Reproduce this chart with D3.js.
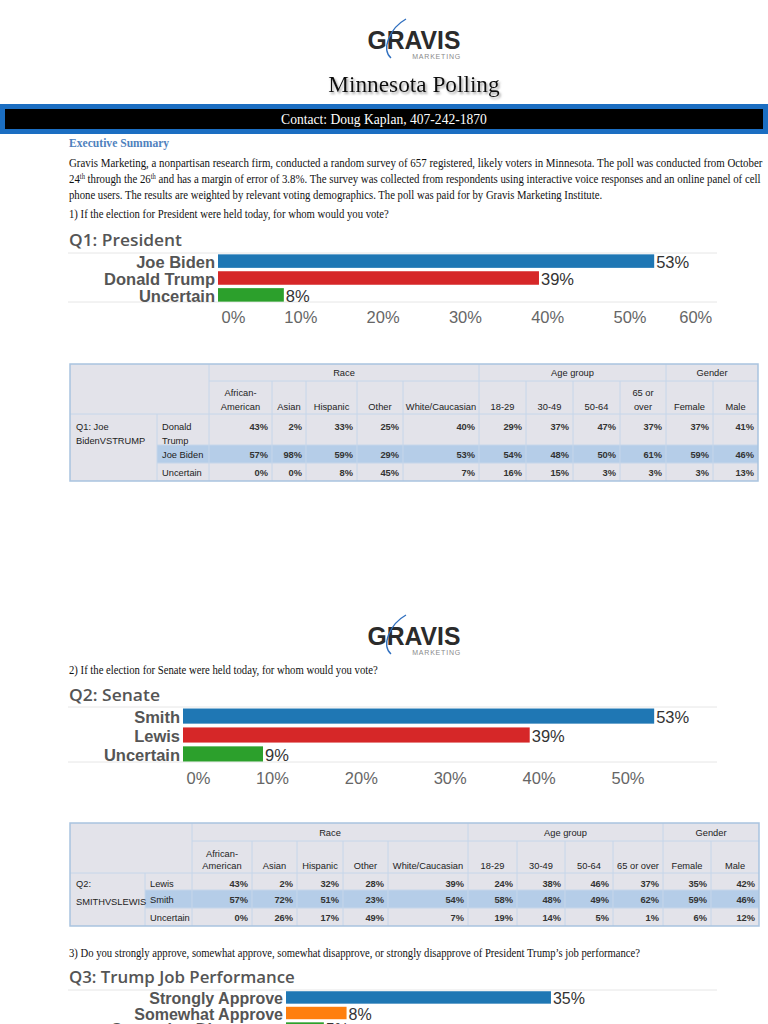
<!DOCTYPE html>
<html><head><meta charset="utf-8">
<script src="https://cdn.jsdelivr.net/npm/d3@7"></script>
<style>html,body{margin:0;padding:0;background:#fff;overflow:hidden}</style>
</head><body><svg id="c" width="768" height="1024"></svg>
<script>
// ---------- DATA ----------
const q1Categories = ["Joe Biden", "Donald Trump", "Uncertain"];
const q1Values = [53, 39, 8];
const q1Colors = ["#1f77b4", "#d62728", "#2ca02c"];
const q1Ticks = [0, 10, 20, 30, 40, 50, 60];

const q2Categories = ["Smith", "Lewis", "Uncertain"];
const q2Values = [53, 39, 9];
const q2Colors = ["#1f77b4", "#d62728", "#2ca02c"];
const q2Ticks = [0, 10, 20, 30, 40, 50];

const q3Categories = ["Strongly Approve", "Somewhat Approve", "Somewhat Disapprove"];
const q3Values = [35, 8, 5];
const q3Colors = ["#1f77b4", "#ff7f0e", "#2ca02c"];

const groupNames = ["Race", "Age group", "Gender"];
const groupSizes = [5, 4, 2];
const t1Headers = ["African-\nAmerican", "Asian", "Hispanic", "Other", "White/Caucasian", "18-29", "30-49", "50-64", "65 or\nover", "Female", "Male"];
const t2Headers = ["African-\nAmerican", "Asian", "Hispanic", "Other", "White/Caucasian", "18-29", "30-49", "50-64", "65 or over", "Female", "Male"];

const t1Question = "Q1: Joe\nBidenVSTRUMP";
const t1Rows = ["Donald\nTrump", "Joe Biden", "Uncertain"];
const t1Trump = [43, 2, 33, 25, 40, 29, 37, 47, 37, 37, 41];
const t1Biden = [57, 98, 59, 29, 53, 54, 48, 50, 61, 59, 46];
const t1Uncertain = [0, 0, 8, 45, 7, 16, 15, 3, 3, 3, 13];

const t2Question = "Q2:\nSMITHVSLEWIS";
const t2Rows = ["Lewis", "Smith", "Uncertain"];
const t2Lewis = [43, 2, 32, 28, 39, 24, 38, 46, 37, 35, 42];
const t2Smith = [57, 72, 51, 23, 54, 58, 48, 49, 62, 59, 46];
const t2Uncertain = [0, 26, 17, 49, 7, 19, 14, 5, 1, 6, 12];

const paragraph = [
  "Gravis Marketing, a nonpartisan research firm, conducted a random survey of 657 registered, likely voters in Minnesota. The poll was conducted from October",
  ["24", "th", " through the 26", "th", " and has a margin of error of 3.8%.  The survey was collected from respondents using interactive voice responses and an online panel of cell"],
  "phone users.  The results are weighted by relevant voting demographics. The poll was paid for by Gravis Marketing Institute."
];

// ---------- SETUP ----------
const svg = d3.select("#c");
svg.append("rect").attr("width", 768).attr("height", 1024).attr("fill", "#fff");
const defs = svg.append("defs");
const flt = defs.append("filter").attr("id", "sh").attr("x", "-10%").attr("y", "-40%").attr("width", "130%").attr("height", "190%");
flt.append("feDropShadow").attr("dx", 1.5).attr("dy", 2).attr("stdDeviation", 1.2).attr("flood-color", "#777").attr("flood-opacity", 0.7);

const SERIF = "'Liberation Serif','Times New Roman',serif";
const SANS = "'Liberation Sans',Arial,sans-serif";

function fit(t, w) {
  const bw = t.node().getBBox().width;
  const x = +t.attr("x"), y = +t.attr("y");
  t.attr("transform", `translate(${x},${y}) scale(${w / bw},1) translate(${-x},${-y})`);
  return t;
}

function serifText(x, y, str, size, w, opts = {}) {
  const t = svg.append("text").attr("x", x).attr("y", y)
    .attr("font-family", SERIF).attr("font-size", size).attr("fill", opts.fill || "#111")
    .attr("font-weight", opts.weight || "normal").attr("text-anchor", opts.anchor || "start");
  if (Array.isArray(str)) {
    str.forEach((s, i) => {
      const sup = i % 2 === 1;
      t.append("tspan").attr("font-size", sup ? size * 0.6 : size)
        .attr("dy", sup ? -4 : (i > 0 ? 4 : 0)).text(s);
    });
  } else t.text(str);
  if (w) fit(t, w);
  return t;
}

function logo(cx, base) {
  const g = svg.append("g");
  const t = g.append("text").attr("x", cx).attr("y", base).attr("text-anchor", "middle")
    .attr("font-family", SANS).attr("font-weight", "bold").attr("font-size", 26).attr("fill", "#2b2b2b").text("GRAVIS");
  fit(t, 93);
  g.append("text").attr("x", cx + 47).attr("y", base + 10).attr("text-anchor", "end")
    .attr("font-family", SANS).attr("font-size", 7).attr("letter-spacing", 0.8).attr("fill", "#8a8a8a").text("MARKETING");
  g.append("path").attr("d", `M${cx - 8},${base - 30} C${cx - 24},${base - 21} ${cx - 33},${base} ${cx - 23},${base + 9}`)
    .attr("fill", "none").attr("stroke", "#2f6fbf").attr("stroke-width", 1.4);
}

// ---------- HEADER ----------
logo(414, 49);
serifText(414, 92, "Minnesota Polling", 23, 172, { anchor: "middle" }).attr("filter", "url(#sh)");
svg.append("rect").attr("x", 0).attr("y", 104).attr("width", 768).attr("height", 30).attr("fill", "#1b6ec2");
svg.append("rect").attr("x", 5).attr("y", 109).attr("width", 758).attr("height", 20).attr("fill", "#000");
serifText(384, 124, "Contact: Doug Kaplan, 407-242-1870", 14, 206, { anchor: "middle", fill: "#fff" });
serifText(69, 147, "Executive Summary", 12.5, 101, { weight: "bold", fill: "#4f81bd" });
serifText(69, 167, paragraph[0], 12, 694);
serifText(69, 183, paragraph[1], 12, 693);
serifText(69, 199, paragraph[2], 12, 534);
serifText(69, 218, "1) If the election for President were held today, for whom would you vote?", 12, 320);

// ---------- BAR CHART ----------
function barChart(cfg) {
  const g = svg.append("g");
  const fs = cfg.fs || 16.5;
  const title = g.append("text").attr("x", 69).attr("y", cfg.titleY)
    .attr("font-family", "'Open Sans',sans-serif").attr("font-weight", 600).attr("font-size", 16).attr("fill", "#555").text(cfg.title);
  fit(title, cfg.titleW);
  g.append("line").attr("x1", 68).attr("x2", 717).attr("y1", cfg.gridTop).attr("y2", cfg.gridTop).attr("stroke", "#e6e6e6");
  if (cfg.gridBottom) g.append("line").attr("x1", 68).attr("x2", 717).attr("y1", cfg.gridBottom).attr("y2", cfg.gridBottom).attr("stroke", "#e6e6e6");
  const x = d3.scaleLinear().domain([0, 60]).range([cfg.x0, cfg.x0 + 60 * cfg.ppp]);
  const y = d3.scaleBand().domain(cfg.cats).range(cfg.yRange).paddingInner(0.2).paddingOuter(0.08);
  g.selectAll("rect.bar").data(cfg.cats).join("rect").attr("class", "bar")
    .attr("x", x(0)).attr("y", d => y(d)).attr("height", y.bandwidth())
    .attr("width", (d, i) => x(cfg.vals[i]) - x(0)).attr("fill", (d, i) => cfg.colors[i]);
  g.selectAll("text.cat").data(cfg.cats).join("text").attr("class", "cat")
    .attr("x", x(0) - 3).attr("y", d => y(d) + y.bandwidth() / 2 + 1).attr("dominant-baseline", "central")
    .attr("text-anchor", "end").attr("font-family", SANS).attr("font-weight", "bold").attr("font-size", fs)
    .attr("fill", "#555").text(d => d);
  g.selectAll("text.val").data(cfg.cats).join("text").attr("class", "val")
    .attr("x", (d, i) => x(cfg.vals[i]) + 2).attr("y", d => y(d) + y.bandwidth() / 2 + 1).attr("dominant-baseline", "central")
    .attr("font-family", SANS).attr("font-size", fs).attr("fill", "#333").text((d, i) => cfg.vals[i] + "%");
  if (cfg.ticks) {
    const ax = g.append("g").attr("transform", `translate(0,${cfg.tickY})`)
      .call(d3.axisBottom(x).tickValues(cfg.ticks).tickFormat(d => d + "%").tickSize(0).tickPadding(0));
    ax.select(".domain").remove();
    ax.selectAll("text").attr("font-family", SANS).attr("font-size", 16.5).attr("fill", "#666").attr("dy", 0);
    ax.selectAll(".tick").filter(d => d === 0).select("text").attr("text-anchor", "start").attr("x", 3);
    ax.selectAll(".tick").filter(d => d === 60).select("text").attr("text-anchor", "end").attr("x", 0);
  }
}

barChart({ title: "Q1: President", titleY: 246, titleW: 113, gridTop: 253, gridBottom: 302,
  cats: q1Categories, vals: q1Values, colors: q1Colors, ticks: q1Ticks,
  x0: 218, ppp: 8.23, yRange: [253, 303], tickY: 323 });

// ---------- TABLE ----------
function table(cfg) {
  const g = svg.append("g").attr("font-family", SANS).attr("font-size", 9.3).attr("fill", "#222");
  const C = cfg.cols, R = cfg.rows;
  const L = C[0], Rt = C[C.length - 1], T = R[0], B = R[R.length - 1];
  const gray = "#e3e3ea", hi = "#b5cde8", line = "#c6d6ea";
  g.append("rect").attr("x", L).attr("y", T).attr("width", Rt - L).attr("height", B - T).attr("fill", gray);
  g.append("rect").attr("x", C[1]).attr("y", R[2 + cfg.hiRow]).attr("width", Rt - C[1]).attr("height", R[3 + cfg.hiRow] - R[2 + cfg.hiRow]).attr("fill", hi);
  const hl = (y, x1, x2) => g.append("line").attr("x1", x1).attr("x2", x2).attr("y1", y).attr("y2", y).attr("stroke", line);
  const vl = (x, y1, y2) => g.append("line").attr("x1", x).attr("x2", x).attr("y1", y1).attr("y2", y2).attr("stroke", line);
  hl(R[1], C[2], Rt); hl(R[2], L, Rt); hl(R[3], C[1], Rt); hl(R[4], C[1], Rt);
  vl(C[1], R[2], B); vl(C[2], T, B);
  let gi = 2; const groupEdges = [C[2]];
  groupSizes.forEach(n => { gi += n; groupEdges.push(C[gi]); });
  for (let i = 3; i < C.length - 1; i++) vl(C[i], groupEdges.includes(C[i]) ? T : R[1], B);
  g.append("rect").attr("x", L).attr("y", T).attr("width", Rt - L).attr("height", B - T)
    .attr("fill", "none").attr("stroke", "#a9c3df").attr("stroke-width", 1.5);
  groupNames.forEach((n, i) => {
    g.append("text").attr("x", (groupEdges[i] + groupEdges[i + 1]) / 2).attr("y", R[1] - 5)
      .attr("text-anchor", "middle").text(n);
  });
  cfg.headers.forEach((h, j) => {
    const lines = h.split("\n");
    const cx = (C[j + 2] + C[j + 3]) / 2;
    lines.forEach((s, k) => {
      g.append("text").attr("x", cx).attr("y", R[2] - 4 - (lines.length - 1 - k) * cfg.hdrLH)
        .attr("text-anchor", "middle").text(s);
    });
  });
  cfg.question.split("\n").forEach((s, k) => {
    g.append("text").attr("x", L + 6).attr("y", R[2] + cfg.firstBase + k * cfg.qLH).text(s);
  });
  cfg.rowNames.forEach((rn, r) => {
    const top = R[2 + r];
    const base = top + (r === 0 ? cfg.firstBase : 13);
    rn.split("\n").forEach((s, k) => {
      g.append("text").attr("x", C[1] + 5).attr("y", base + k * 14).text(s);
    });
    g.selectAll(null).data(cfg.data[r]).join("text")
      .attr("x", (d, j) => C[j + 3] - 4).attr("y", base)
      .attr("text-anchor", "end").attr("font-weight", "bold").attr("fill", "#333")
      .text(d => d + "%");
  });
}

table({ cols: [70, 157, 209, 272, 306, 357, 403, 479, 526, 573, 620, 666, 713, 758],
  rows: [364, 381, 414, 445, 463, 481], headers: t1Headers, hdrLH: 14,
  question: t1Question, qLH: 14, rowNames: t1Rows, data: [t1Trump, t1Biden, t1Uncertain],
  hiRow: 1, firstBase: 16 });

// ---------- PAGE 2 ----------
logo(414, 645);
serifText(69, 674, "2) If the election for Senate were held today, for whom would you vote?", 12, 309);
barChart({ title: "Q2: Senate", titleY: 701, titleW: 91, gridTop: 707, gridBottom: 762,
  cats: q2Categories, vals: q2Values, colors: q2Colors, ticks: q2Ticks,
  x0: 183, ppp: 8.89, yRange: [707, 763], tickY: 784 });

table({ cols: [70, 145, 192, 252, 297, 343, 388, 468, 517, 565, 613, 663, 711, 759],
  rows: [823, 841, 873, 890, 908, 926], headers: t2Headers, hdrLH: 12,
  question: t2Question, qLH: 18, rowNames: t2Rows, data: [t2Lewis, t2Smith, t2Uncertain],
  hiRow: 1, firstBase: 14 });

serifText(69, 957, "3) Do you strongly approve, somewhat approve, somewhat disapprove, or strongly disapprove of President Trump\u2019s job performance?", 12, 572);
barChart({ title: "Q3: Trump Job Performance", titleY: 983, titleW: 226, gridTop: 990, gridBottom: null,
  cats: q3Categories, vals: q3Values, colors: q3Colors, ticks: null, fs: 16,
  x0: 286, ppp: 7.57, yRange: [990, 1036] });
</script></body></html>
